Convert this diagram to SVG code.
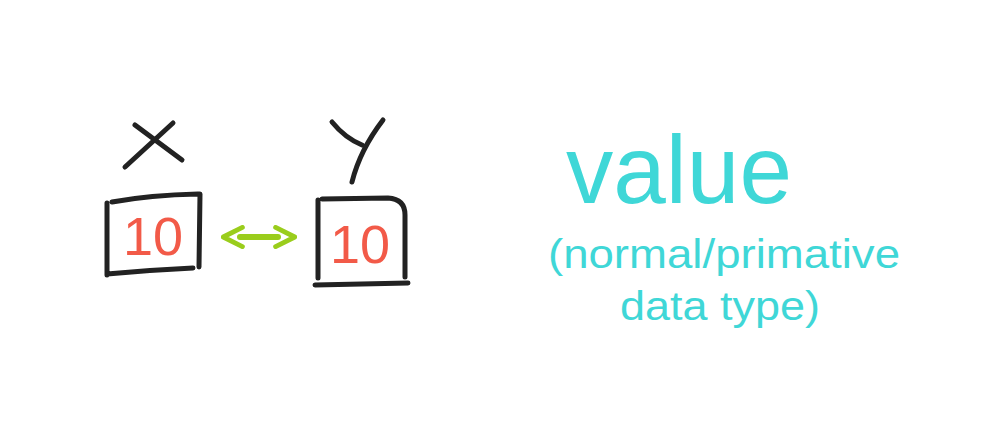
<svg xmlns="http://www.w3.org/2000/svg" width="998" height="428" viewBox="0 0 998 428">
<style>
.box{fill:none;stroke:#222;stroke-width:5;stroke-linecap:round;stroke-linejoin:round}
.lbl{fill:none;stroke:#222;stroke-width:5;stroke-linecap:round}
.num{font-family:"Liberation Sans",Arial,sans-serif;fill:#f25a48;font-size:54px}
.cy{font-family:"Liberation Sans",Arial,sans-serif;fill:#3fd7d7}
.conn{fill:none;stroke:#9acd1c;stroke-width:6;stroke-linecap:round;stroke-linejoin:round}
</style>
<defs>
<marker id="head" viewBox="0 0 10 10" refX="2" refY="5" markerWidth="4" markerHeight="4" orient="auto-start-reverse" markerUnits="strokeWidth">
<path d="M1,1 L9,5 L1,9" fill="none" stroke="#9acd1c" stroke-width="2" stroke-linecap="round" stroke-linejoin="round"/>
</marker>
</defs>
<rect width="998" height="428" fill="#fff"/>
<g id="node-x">
<path class="lbl" d="M125,167 L173,123 M135,125 L182,160"/>
<path class="box" d="M107,203 L107,275 M112,202 Q150,195 198,194 M200,194 L199,267 M107,274 Q150,270 193,268"/>
<text class="num" x="153" y="255" text-anchor="middle">10</text>
</g>
<g id="node-y">
<path class="lbl" d="M332,122 Q345,138 362,145 M383,120 Q360,150 352,182"/>
<path class="box" d="M318,200 L318,278 M322,199 L388,198 Q405,199 405,215 L405,277 M315,285 L408,283"/>
<text class="num" x="360" y="263" text-anchor="middle">10</text>
</g>
<g id="connectors">
<path class="conn" d="M240,237 L278,237" marker-start="url(#head)" marker-end="url(#head)"/>
</g>
<g id="label-value">
<text class="cy" x="566" y="203" font-size="96" textLength="226" lengthAdjust="spacingAndGlyphs">value</text>
<text class="cy" x="548" y="268" font-size="40" textLength="352" lengthAdjust="spacingAndGlyphs">(normal/primative</text>
<text class="cy" x="620" y="320" font-size="40" textLength="200" lengthAdjust="spacingAndGlyphs">data type)</text>
</g>
</svg>
